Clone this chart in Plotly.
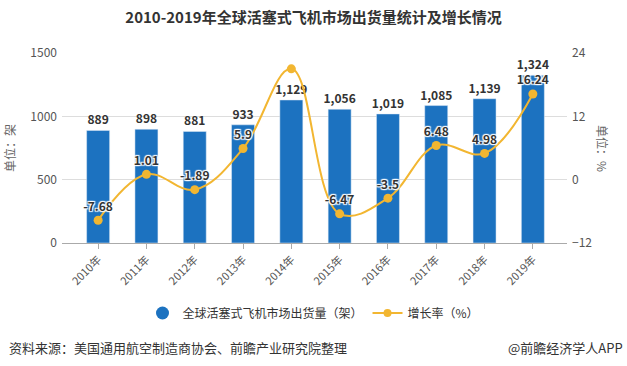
import plotly.graph_objects as go

years = ["2010年", "2011年", "2012年", "2013年", "2014年", "2015年", "2016年", "2017年", "2018年", "2019年"]
shipments = [889, 898, 881, 933, 1129, 1056, 1019, 1085, 1139, 1324]
shipment_labels = ["889", "898", "881", "933", "1,129", "1,056", "1,019", "1,085", "1,139", "1,324"]
growth = [-7.68, 1.01, -1.89, 5.9, 21.0, -6.47, -3.5, 6.48, 4.98, 16.24]
growth_labels = ["-7.68", "1.01", "-1.89", "5.9", "", "-6.47", "-3.5", "6.48", "4.98", "16.24"]

FONT = "Noto Sans CJK SC"
BLUE = "#1c72c0"
GOLD = "#f2b631"
halo = "1px 1px 1px #fff, -1px -1px 1px #fff, 1px -1px 1px #fff, -1px 1px 1px #fff, 0 0 2px #fff"

L, R, T, B = 62, 60, 53, 123
PW = 627 - L - R
PH = 366 - T - B

fig = go.Figure()
fig.add_trace(go.Bar(
    x=years, y=shipments, text=shipment_labels, textposition="outside", constraintext="none",
    textfont=dict(size=12, color="#333", family=FONT, weight="bold"),
    marker=dict(color=BLUE), width=0.476, showlegend=False, cliponaxis=False,
))
fig.add_trace(go.Scatter(
    x=years, y=growth, yaxis="y2", mode="lines+markers+text",
    text=growth_labels, textposition="top center",
    textfont=dict(size=12, color="#333", family=FONT, weight="bold", shadow=halo),
    line=dict(color=GOLD, width=2, shape="spline", smoothing=1.1),
    marker=dict(color=GOLD, size=9), showlegend=False, cliponaxis=False,
))
# legend entries
fig.add_trace(go.Scatter(x=[None], y=[None], mode="markers", name="全球活塞式飞机市场出货量（架）",
                         marker=dict(color=BLUE, size=13, symbol="circle")))
fig.add_trace(go.Scatter(x=[None], y=[None], mode="lines+markers", name="增长率（%）",
                         line=dict(color=GOLD, width=2), marker=dict(color=GOLD, size=8)))

fig.update_layout(
    width=627, height=366,
    margin=dict(l=L, r=R, t=T, b=B),
    paper_bgcolor="white", plot_bgcolor="white",
    font=dict(family=FONT, color="#555", size=12),
    title=dict(text="<b>2010-2019年全球活塞式飞机市场出货量统计及增长情况</b>", xref="container", x=0.5,
               xanchor="center", yref="container", y=1 - 18 / 366, yanchor="middle",
               font=dict(size=15, color="#333", family=FONT)),
    xaxis=dict(type="category", range=[-0.748, 9.707], tickangle=-45, showline=True, linecolor="#aaa",
               ticks="outside", ticklen=5, tickcolor="#aaa", tickfont=dict(size=11, color="#555"),
               automargin=False),
    yaxis=dict(range=[0, 1500], dtick=500, showgrid=True, gridcolor="#ddd", zeroline=False,
               tickfont=dict(size=12, color="#555"), automargin=False, ticklabelstandoff=4,
               title=dict(text="单位：架", font=dict(size=12, color="#666"), standoff=12)),
    yaxis2=dict(range=[-12, 24], dtick=12, overlaying="y", side="right", showgrid=False,
                zeroline=False, tickfont=dict(size=12, color="#555"), ticklabelstandoff=4,
                automargin=False),
    legend=dict(orientation="h", x=0.5, xanchor="center", xref="container",
                yref="container", y=1 - 313 / 366, yanchor="middle",
                font=dict(size=12, color="#333"), itemwidth=30),
)
fig.add_annotation(text="单位：%", textangle=90, xref="paper", yref="paper", x=(603 - L) / PW, y=0.5,
                   xanchor="center", showarrow=False, font=dict(size=12, color="#666"))
fig.add_annotation(text="资料来源：美国通用航空制造商协会、前瞻产业研究院整理", xref="paper", yref="paper",
                   x=(7 - L) / PW, xanchor="left", y=-104 / PH, yanchor="middle", showarrow=False,
                   font=dict(size=13, color="#333"))
fig.add_annotation(text="@前瞻经济学人APP", xref="paper", yref="paper",
                   x=(625 - L) / PW, xanchor="right", y=-104 / PH, yanchor="middle", showarrow=False,
                   font=dict(size=13, color="#333"))

fig.write_html("out.html", config={"displayModeBar": False},
               post_script="document.body.style.margin='0';document.body.style.padding='0';")
